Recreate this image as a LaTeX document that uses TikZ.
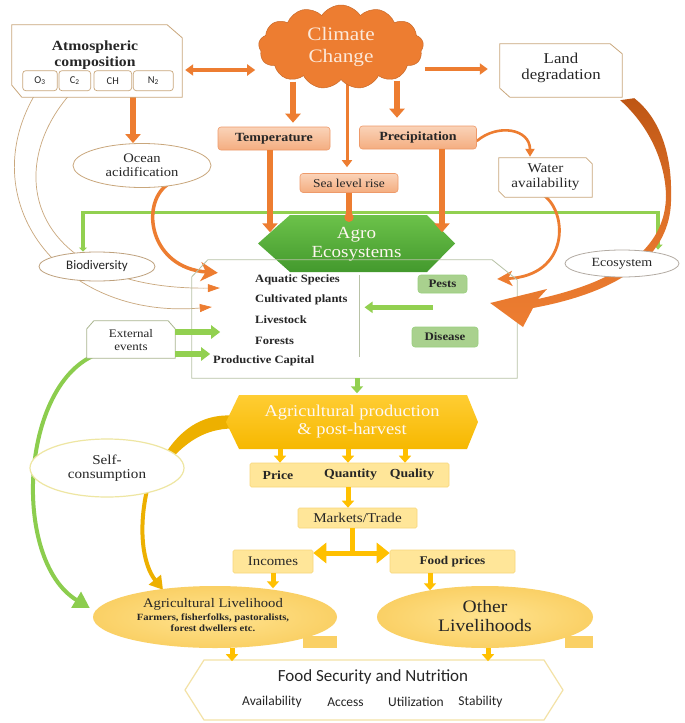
\documentclass[tikz,border=0pt]{standalone}
\usepackage{fontspec}
\setmainfont{Liberation Serif}[FakeStretch=1.12]
\newfontfamily\sansf{Carlito}
\usetikzlibrary{arrows.meta,shapes.symbols,shapes.geometric,calc}
\pgfdeclarelayer{bg}
\pgfsetlayers{bg,main}
\newcommand\fsz[2]{\fontsize{#1}{#2}\selectfont}
\definecolor{cOrange}{HTML}{ED7D31}
\definecolor{cDOrange}{HTML}{BE5614}
\definecolor{cSalmon}{HTML}{FAD3B8}
\definecolor{cSalmonD}{HTML}{F4AD80}
\definecolor{cSalmonB}{HTML}{EE9A6A}
\definecolor{cGreen}{HTML}{92D050}
\definecolor{cDGreen}{HTML}{6DBA45}
\definecolor{cPGreen}{HTML}{A9D18E}
\definecolor{cHexGa}{HTML}{6CC24A}
\definecolor{cHexGb}{HTML}{43992D}
\definecolor{cGold}{HTML}{FFC000}
\definecolor{cDGold}{HTML}{EDB000}
\definecolor{cLGold}{HTML}{FFE699}
\definecolor{cLGoldB}{HTML}{F7D77A}
\definecolor{cMGold}{HTML}{FAD065}
\definecolor{cMGoldL}{HTML}{FFE38F}
\definecolor{cHexYa}{HTML}{FFCD33}
\definecolor{cHexYb}{HTML}{F6B800}
\definecolor{cTan}{HTML}{C9A77C}
\definecolor{cTxt}{HTML}{262626}
\definecolor{cBoxG}{HTML}{B8C2A6}
\definecolor{cExt}{HTML}{A9B58F}
\definecolor{cPeach}{HTML}{FCE9DA}
\definecolor{cFS}{HTML}{F3E2A6}
\definecolor{cSelf}{HTML}{EEE6A2}
\definecolor{cGray}{HTML}{B3ABA3}
\begin{document}
\begin{tikzpicture}[x=1pt,y=-1pt,
  every node/.style={text=cTxt,inner sep=0pt,align=center},
  tanline/.style={draw=cTan,line width=0.8pt,fill=white},
  subbox/.style={draw=cTan,line width=0.7pt,fill=white,rounded corners=3pt,minimum height=20pt,font=\sansf\fsz{10.5}{12}},
  salbox/.style={draw=cSalmonB,line width=0.6pt,rounded corners=3pt,top color=cSalmon,bottom color=cSalmonD,font=\fsz{12.5}{14}\bfseries},
  gbox/.style={draw=cDGreen!70,line width=0.6pt,rounded corners=3pt,fill=cPGreen,font=\fsz{11.5}{13}\bfseries},
  ybox/.style={draw=cLGoldB,line width=0.6pt,rounded corners=1.5pt,fill=cLGold},
  oval/.style={ellipse,draw=cTan,line width=0.8pt,fill=white},
  oarrow/.style={draw=cOrange,line width=6pt,-{Triangle[width=15pt,length=9pt]}},
  othin/.style={draw=cOrange,line width=4pt,-{Triangle[width=11pt,length=8pt]}},
  garrow/.style={draw=cGreen,line width=6pt,-{Triangle[width=13pt,length=9pt]}},
  yarrow/.style={draw=cGold,line width=5pt,-{Triangle[width=12pt,length=7pt]}},
  bline/.style={draw=cTan,line width=0.7pt,-{Triangle[width=8pt,length=12pt,color=cOrange]}},
  itemtext/.style={anchor=west,font=\fsz{11.2}{13}\bfseries},
  fstext/.style={font=\sansf\fsz{13.5}{15}},
]
\useasboundingbox (0,0) rectangle (685,723);
\begin{pgfonlayer}{bg}
\fill[white] (0,0) rectangle (685,723);
\end{pgfonlayer}

% ---------- Atmospheric composition ----------
\node[minimum width=170pt,minimum height=72pt] (atm) at (97,61) {};
\draw[tanline] (atm.north west) -- ($(atm.north east)+(-15,0)$) -- ($(atm.north east)+(0,13)$) -- (atm.south east) -- ($(atm.south west)+(10,0)$) -- ($(atm.south west)+(0,-12)$) -- cycle;
\node[font=\fsz{14}{15.5}\bfseries] (atmt) at (95,55) {Atmospheric\\composition};
\node[subbox,minimum width=34.6pt] (o3) at (40,80.7) {O\textsubscript{3}};
\node[subbox,minimum width=31.7pt] (c2) at (74.8,80.7) {C\textsubscript{2}};
\node[subbox,minimum width=37.7pt] (ch) at (112.8,80.7) {CH};
\node[subbox,minimum width=40pt] (n2) at (153.3,80.7) {N\textsubscript{2}};

% ---------- Climate change ----------
\node[cloud,cloud puffs=13,cloud puff arc=115,aspect=2,minimum width=165pt,minimum height=84pt,fill=cOrange,draw=cOrange!85!black,line width=0.5pt,text=cPeach,font=\fsz{19}{22}] (cc) at (341,47) {Climate\\Change};

% ---------- Land degradation ----------
\node[minimum width=122pt,minimum height=53pt] (land) at (561,70.5) {};
\draw[tanline] (land.north west) -- ($(land.north east)+(-12,0)$) -- ($(land.north east)+(0,10)$) -- (land.south east) -- ($(land.south west)+(10,0)$) -- ($(land.south west)+(0,-9)$) -- cycle;
\node[font=\fsz{15}{16.5}] (landt) at (561,68) {Land\\degradation};

% ---------- Climate drivers ----------
\node[salbox,minimum width=112pt,minimum height=23pt] (temp) at (274,138.5) {Temperature};
\node[salbox,minimum width=117pt,minimum height=23pt] (prec) at (418,137.5) {Precipitation};
\node[salbox,minimum width=98pt,minimum height=19pt,font=\fsz{12}{14}] (sea) at (349,183) {Sea level rise};

\node[oval,minimum width=138pt,minimum height=44pt,font=\fsz{13}{14.5}] (ocean) at (142,165.5) {Ocean\\acidification};

\node[minimum width=93pt,minimum height=39pt] (water) at (545.5,177.5) {};
\draw[tanline] (water.north west) -- ($(water.north east)+(-6,0)$) -- ($(water.north east)+(0,6)$) -- (water.south east) -- ($(water.south west)+(6,0)$) -- ($(water.south west)+(0,-6)$) -- cycle;
\node[font=\fsz{13.5}{15}] (watert) at (545.5,177.5) {Water\\availability};

\node[oval,draw=cTan!85!gray,minimum width=116pt,minimum height=29pt,font=\sansf\fsz{13}{15}] (bio) at (97,266.5) {Biodiversity};

% ---------- Agro ecosystems ----------
\shade[top color=cHexGa,bottom color=cHexGb] (258,243.5) -- (290,215) -- (427,215) -- (455,243.5) -- (427,272) -- (290,272) -- cycle;
\node[minimum width=197pt,minimum height=57pt,text=cPeach!40!white,font=\fsz{17}{19}] (agro) at (356.5,244) {Agro\\Ecosystems};

\node[minimum width=325pt,minimum height=118pt] (bigbox) at (354.5,319) {};
\draw[draw=cBoxG,line width=0.8pt] ($(bigbox.north west)+(0,17)$) -- ($(bigbox.north west)+(16,0)$) -- ($(bigbox.north east)+(-25,0)$) -- ($(bigbox.north east)+(0,20)$) -- (bigbox.south east) -- (bigbox.south west) -- cycle;
\draw[draw=cBoxG,line width=0.8pt] (359,275) -- (359,357);
\node[itemtext] (aq) at (255,280) {Aquatic Species};
\node[itemtext] (cu) at (255,300) {Cultivated plants};
\node[itemtext] (li) at (255,320) {Livestock};
\node[itemtext] (fo) at (255,340.5) {Forests};
\node[itemtext] (pc) at (213,361) {Productive Capital};
\node[gbox,minimum width=49pt,minimum height=18pt] (pests) at (442.5,284) {Pests};
\node[gbox,minimum width=66pt,minimum height=20pt] (dis) at (445,337) {Disease};

% big tapered arrow from land degradation (below the Ecosystem oval)
\shade[top color=cDOrange,bottom color=cOrange,middle color=cOrange!70!cDOrange] ($(land.south east)+(12,1)$) .. controls (660,118) and (672,155) .. (671,195) .. controls (673,250) and (630,290) .. (533,308) -- (523,327) -- ($(bigbox.east)+(-27,-16)$) -- (547,289) -- (538,299) .. controls (625,280) and (666,245) .. (666,195) .. controls (665,160) and (648,125) .. ($(land.south east)+(-2,3)$) -- cycle;

\node[oval,draw=cGray,minimum width=114pt,minimum height=27pt,font=\fsz{12.5}{14}] (eco) at (622,263.5) {Ecosystem};

\node[minimum width=88pt,minimum height=37pt] (ext) at (131,339.5) {};
\draw[draw=cExt,line width=0.8pt,fill=white] ($(ext.north west)+(0,8)$) -- ($(ext.north west)+(7,0)$) -- ($(ext.north east)+(-7,0)$) -- ($(ext.north east)+(0,8)$) -- (ext.south east) -- (ext.south west) -- cycle;
\node[font=\fsz{11.6}{13.5}] (extt) at (131,340) {External\\events};

% ---------- Production chain ----------
\shade[top color=cHexYa,bottom color=cHexYb] (226,422) -- (239,395) -- (467,395) -- (478,422) -- (467,449) -- (239,449) -- cycle;
\node[minimum width=252pt,minimum height=54pt,text=cPeach!30!white,font=\fsz{16.5}{18}] (aprod) at (352,421.5) {Agricultural production\\\& post-harvest};

\node[ybox,minimum width=199pt,minimum height=24pt] (bar) at (349.5,475) {};
\node[font=\fsz{12.3}{14}\bfseries] (price) at (278,475) {Price};
\node[font=\fsz{12.3}{14}\bfseries] (qty) at (350.5,475) {Quantity};
\node[font=\fsz{12.3}{14}\bfseries] (qual) at (412,475) {Quality};
\node[ybox,minimum width=119pt,minimum height=20pt,font=\fsz{13.5}{15}] (mkt) at (357.5,518) {Markets/Trade};
\node[ybox,minimum width=80pt,minimum height=23pt,font=\fsz{13.2}{15}] (inc) at (273,561.5) {Incomes};
\node[ybox,minimum width=125pt,minimum height=23pt,font=\fsz{11.8}{14}\bfseries] (fp) at (452.5,561.5) {Food prices};

\node[oval,draw=cSelf,line width=1.2pt,minimum width=154pt,minimum height=58pt,font=\fsz{13.5}{14.5}] (self) at (107,468) {Self-\\consumption};

% ---------- Livelihoods ----------
\fill[cMGold] (303,636) rectangle (337,648);
\node[ellipse,inner color=cMGoldL,outer color=cMGold,minimum width=244pt,minimum height=62pt] (aliv) at (215,617) {};
\node[font=\fsz{13.1}{14}] (alivt) at (213,604) {Agricultural Livelihood};
\node[font=\fsz{9.5}{11.2}\bfseries] (alivs) at (213,622.5) {Farmers, fisherfolks, pastoralists,\\forest dwellers etc.};

\fill[cMGold] (565,636) rectangle (593,648);
\node[ellipse,inner color=cMGoldL,outer color=cMGold,minimum width=216pt,minimum height=62pt] (oliv) at (485,617) {};
\node[font=\fsz{17.5}{19}] (olivt) at (485,616.5) {Other\\Livelihoods};

% ---------- Food security ----------
\draw[draw=cFS,line width=1.2pt,fill=white] (185,690) -- (204,660) -- (544,660) -- (563,690) -- (544,720) -- (204,720) -- cycle;
\node[minimum width=378pt,minimum height=60pt] (fs) at (374,690) {};
\node[font=\sansf\fsz{17}{19}] (fst) at (373,677) {Food Security and Nutrition};
\node[fstext] (fa) at (272,702) {Availability};
\node[fstext] (fb) at (345.5,702) {Access};
\node[fstext] (fc) at (416,702) {Utilization};
\node[fstext] (fd) at (480.5,702) {Stability};

% ---------- connectors behind ----------
\begin{pgfonlayer}{bg}
\draw[bline] ($(o3.south)+(-3,0)$) .. controls (-30,200) and (60,320) .. ($(bigbox.west)+(20,-12)$);
\draw[bline] ($(c2.south)+(-2,0)$) .. controls (0,170) and (30,290) .. ($(bigbox.west)+(28,-31)$);
\draw[othin,{Triangle[width=11pt,length=8pt]}-{Triangle[width=11pt,length=8pt]}] ($(atm.east)+(3,9)$) -- ($(atm.east)+(73,9)$);
\draw[othin] ($(land.west)+(-75,-1.5)$) -- ($(land.west)+(-12,-1.5)$);
\draw[oarrow] ($(temp.north)+(19,-45)$) -- ($(temp.north)+(19,-4)$);
\draw[oarrow] ($(prec.north)+(-21,-45)$) -- ($(prec.north)+(-21,-8)$);
\draw[draw=cOrange,line width=3pt,-{Triangle[width=10pt,length=7pt]}] ($(sea.north)+(-2,-100)$) -- ($(sea.north)+(-2,-6)$);
\draw[oarrow] ($(ocean.north)+(-9,-50)$) -- ($(ocean.north)+(-9,0)$);
\draw[draw=cOrange,line width=2.6pt,-{Triangle[width=9pt,length=8pt]}] ($(prec.east)+(0,3.5)$) .. controls (498,123) and (530,129) .. ($(water.north)+(-15.5,-1)$);
\draw[draw=cGreen!85!cDGreen,line width=4pt,-{Triangle[width=18pt,length=16pt]}] ($(ext.south)+(-28,-6)$) .. controls (20,375) and (10,560) .. ($(aliv.west)+(-3,-9)$);
\draw[draw=cGreen,line width=3.5pt,{Triangle[width=8pt,length=4pt]}-{Triangle[width=9pt,length=5pt]}] ($(bio.north)+(-14,0)$) -- ($(bio.north)+(-14,-39)$) -| ($(eco.north)+(36,0)$);
\draw[draw=cOrange,line width=3.5pt,-{Stealth[length=17pt,width=19pt,inset=5pt]}] ($(ocean.south)+(25,-3)$) .. controls (140,205) and (150,268) .. ($(bigbox.north west)+(26,13)$);
\draw[draw=cOrange,line width=2.8pt,-{Stealth[length=15pt,width=15pt,inset=4pt]}] ($(water.south)+(-2,-2)$) .. controls (568,212) and (570,276) .. ($(bigbox.east)+(-20,-40)$);
\fill[cDGold] ($(aprod.west)+(6,-6)$) .. controls (200,414) and (180,432) .. ($(self.center)+(60,-17)$) -- ($(self.center)+(68,-13)$) .. controls (188,442) and (205,429) .. ($(aprod.west)+(6,7)$) -- cycle;
\draw[draw=cDGold,line width=4pt,-{Triangle[width=15pt,length=13pt]}] ($(self.center)+(40,22)$) .. controls (138,530) and (143,565) .. ($(aliv.north)+(-52,4)$);
\end{pgfonlayer}

% ---------- connectors on top ----------
\draw[oarrow] ($(temp.south)+(-4,0)$) -- ($(temp.south)+(-4,82)$);
\draw[oarrow] ($(prec.south)+(24,0)$) -- ($(prec.south)+(24,83)$);
\draw[draw=cOrange,line width=6pt,-{Circle[length=9pt,width=9pt]}] (sea.south) -- ($(sea.south)+(0,29)$);

\draw[garrow] ($(ext.east)+(0,-7.5)$) -- ($(ext.east)+(45,-7.5)$);
\draw[garrow] ($(ext.east)+(0,14.5)$) -- ($(ext.east)+(35,14.5)$);
\draw[draw=cGreen,line width=4.5pt,-{Triangle[width=11pt,length=8pt]}] ($(pests.south)+(-10,14)$) -- ($(pests.south)+(-78,14)$);
\draw[draw=cGreen,line width=5pt,-{Triangle[width=12pt,length=7pt]}] ($(bigbox.south)+(2.5,0)$) -- ($(aprod.north)+(5,-1)$);

\draw[yarrow] ($(aprod.south)+(-72,0)$) -- ($(bar.north)+(-69.5,0)$);
\draw[yarrow] ($(aprod.south)+(-4,0)$) -- ($(bar.north)+(-1.5,0)$);
\draw[yarrow] ($(aprod.south)+(53,0)$) -- ($(bar.north)+(55.5,0)$);
\draw[yarrow] ($(bar.south)+(-1.5,0)$) -- ($(mkt.north)+(-9.5,0)$);
\draw[draw=cGold,line width=5pt] ($(mkt.south)+(-5.5,0)$) -- ($(mkt.south)+(-5.5,25)$);
\draw[draw=cGold,line width=5pt,{Triangle[width=20pt,length=13pt]}-{Triangle[width=20pt,length=13pt]}] ($(inc.east)+(0,-8.5)$) -- ($(fp.west)+(0,-8.5)$);
\draw[yarrow] (inc.south) -- ($(inc.south)+(0,15)$);
\draw[yarrow] ($(fp.south)+(-22.5,0)$) -- ($(fp.south)+(-22.5,17)$);
\draw[yarrow] ($(aliv.south)+(17,0)$) -- ($(aliv.south)+(17,13)$);
\draw[yarrow] ($(oliv.south)+(3,0)$) -- ($(oliv.south)+(3,13)$);
\end{tikzpicture}
\end{document}
